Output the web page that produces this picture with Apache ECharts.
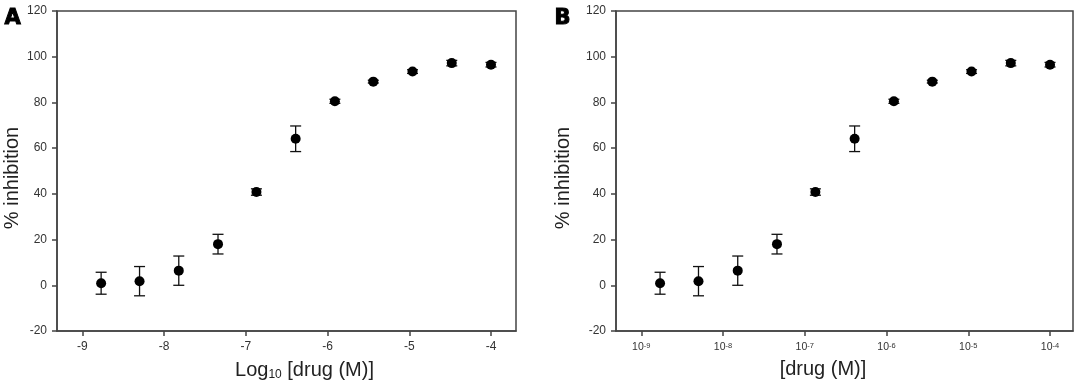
<!DOCTYPE html>
<html><head><meta charset="utf-8">
<script src="https://cdn.jsdelivr.net/npm/echarts@6/dist/echarts.min.js"></script>
<style>html,body{margin:0;padding:0;background:#fff}#c{width:1080px;height:382px}</style>
</head><body><div id="c"></div>
<script>
// log10 of drug concentration (M)
const logConc = [-8.77, -8.30, -7.82, -7.34, -6.87, -6.39, -5.91, -5.44, -4.96, -4.48, -4.00];
// mean % inhibition
const inhibition = [0.9, 1.8, 6.4, 18.0, 40.8, 64.1, 80.5, 89.1, 93.5, 97.2, 96.5];
// error (± half-length of bar)
const errors = [4.8, 6.4, 6.4, 4.3, 1.4, 5.6, 0.9, 0.6, 0.8, 1.2, 1.0];
const xTicks = [-9, -8, -7, -6, -5, -4];

const chart = echarts.init(document.getElementById('c'), null, {renderer: 'canvas'});
const pts = logConc.map((x, i) => [x, inhibition[i]]);
const bars = logConc.map((x, i) => [x, inhibition[i] - errors[i], inhibition[i] + errors[i]]);

const FONT = 'Liberation Sans';
const axisLineStyle = {color: '#444', width: 1.5};

function errRender(params, api) {
  const x = api.value(0);
  const lo = api.coord([x, api.value(1)]);
  const hi = api.coord([x, api.value(2)]);
  const w = 5.5;
  const st = {stroke: '#111', lineWidth: 1.3};
  return {type: 'group', children: [
    {type: 'line', shape: {x1: lo[0], y1: lo[1], x2: hi[0], y2: hi[1]}, style: st},
    {type: 'line', shape: {x1: lo[0] - w, y1: lo[1], x2: lo[0] + w, y2: lo[1]}, style: st},
    {type: 'line', shape: {x1: hi[0] - w, y1: hi[1], x2: hi[0] + w, y2: hi[1]}, style: st}
  ]};
}

function yAxis(idx, gap) {
  return {
    type: 'value', gridIndex: idx, min: -20, max: 120, interval: 20,
    name: '% inhibition', nameLocation: 'middle', nameGap: gap,
    nameTextStyle: {fontFamily: FONT, fontSize: 20, color: '#222', padding: [0, 0, 0, -14]},
    axisLine: {show: true, onZero: false, lineStyle: axisLineStyle},
    axisTick: {show: true, length: 5, inside: false, lineStyle: axisLineStyle},
    axisLabel: {fontFamily: FONT, fontSize: 12, color: '#333', margin: 10},
    splitLine: {show: false}
  };
}

const option = {
  animation: false,
  backgroundColor: '#fff',
  grid: [
    {left: 57, width: 459, top: 11, height: 320, show: true, borderColor: '#444', borderWidth: 1.5, backgroundColor: 'transparent', containLabel: false, outerBoundsMode: 'none'},
    {left: 616, width: 457, top: 11, height: 320, show: true, borderColor: '#444', borderWidth: 1.5, backgroundColor: 'transparent', containLabel: false, outerBoundsMode: 'none'}
  ],
  xAxis: [
    {
      type: 'value', gridIndex: 0, min: -9.31, max: -3.694,
      name: '{a|Log}{s|10}{a| [drug (M)]}', nameLocation: 'middle', nameGap: 28,
      nameTextStyle: {fontFamily: FONT, padding: [0, 0, 0, 36],
        rich: {a: {fontFamily: FONT, fontSize: 20, color: '#222', lineHeight: 22},
               s: {fontFamily: FONT, fontSize: 12, color: '#222', verticalAlign: 'bottom', lineHeight: 22, padding: [8, 0, 0, 0]}}},
      axisLine: {show: true, onZero: false, lineStyle: axisLineStyle},
      axisTick: {show: true, length: 5, customValues: xTicks, lineStyle: axisLineStyle},
      axisLabel: {customValues: xTicks, fontFamily: FONT, fontSize: 12, color: '#333', margin: 10},
      splitLine: {show: false}
    },
    {
      type: 'value', gridIndex: 1, min: -9.309, max: -3.719,
      name: '[drug (M)]', nameLocation: 'middle', nameGap: 28,
      nameTextStyle: {fontFamily: FONT, fontSize: 20, color: '#222', padding: [0, 43, 0, 0]},
      axisLine: {show: true, onZero: false, lineStyle: axisLineStyle},
      axisTick: {show: true, length: 5, customValues: xTicks, lineStyle: axisLineStyle},
      axisLabel: {customValues: xTicks, margin: 11,
        formatter: v => '{b|10}{s|' + v + '}',
        rich: {b: {fontFamily: FONT, fontSize: 10.5, color: '#333'},
               s: {fontFamily: FONT, fontSize: 7.5, color: '#333', verticalAlign: 'top'}}},
      splitLine: {show: false}
    }
  ],
  yAxis: [yAxis(0, 35), yAxis(1, 43)],
  graphic: [
    {type: 'text', left: 4, top: 8, style: {text: 'A', font: 'bold 21px "DejaVu Sans"', fill: '#000', stroke: '#000', lineWidth: 1}},
    {type: 'text', left: 554, top: 8, style: {text: 'B', font: 'bold 21px "DejaVu Sans"', fill: '#000', stroke: '#000', lineWidth: 1}}
  ],
  series: [
    {type: 'custom', xAxisIndex: 0, yAxisIndex: 0, data: bars, encode: {x: 0, y: [1, 2]}, renderItem: errRender, silent: true, z: 2},
    {type: 'scatter', xAxisIndex: 0, yAxisIndex: 0, data: pts, symbol: 'circle', symbolSize: 10, itemStyle: {color: '#000', opacity: 1}, z: 3},
    {type: 'custom', xAxisIndex: 1, yAxisIndex: 1, data: bars, encode: {x: 0, y: [1, 2]}, renderItem: errRender, silent: true, z: 2},
    {type: 'scatter', xAxisIndex: 1, yAxisIndex: 1, data: pts, symbol: 'circle', symbolSize: 10, itemStyle: {color: '#000', opacity: 1}, z: 3}
  ]
};
chart.setOption(option);
</script>
</body></html>
